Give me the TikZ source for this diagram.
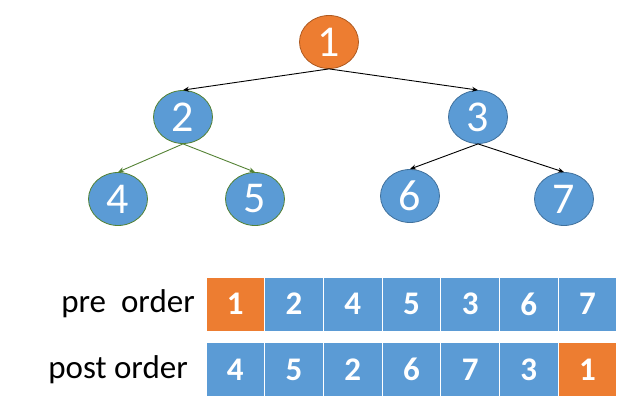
\documentclass[tikz,border=0pt]{standalone}
\usepackage{fontspec}
\setmainfont{Carlito}
\usetikzlibrary{shapes.geometric,arrows.meta}
\definecolor{orfill}{HTML}{ED7D31}
\definecolor{orline}{HTML}{AE5A21}
\definecolor{blfill}{HTML}{5B9BD5}
\definecolor{blline}{HTML}{41719C}
\definecolor{grline}{HTML}{548235}
\tikzset{
  tnode/.style={ellipse, minimum width=59pt, minimum height=53pt, inner sep=0pt, line width=0.8pt,
    text=white, font=\fontsize{44}{44}\selectfont},
  onode/.style={tnode, fill=orfill, draw=orline},
  bnode/.style={tnode, fill=blfill, draw=blline},
  gnode/.style={tnode, fill=blfill, draw=grline},
  edge/.style={line width=0.9pt, -{Stealth[length=6pt,width=5pt]}},
  gedge/.style={edge, draw=grline, color=grline},
  cell/.style={rectangle, minimum width=58.7pt, minimum height=54pt, inner sep=0pt, draw=white, line width=1pt,
    text=white, font=\fontsize{33}{33}\selectfont\bfseries},
  bcell/.style={cell, fill=blfill},
  ocell/.style={cell, fill=orfill},
  lab/.style={anchor=east, inner sep=0pt, font=\fontsize{33}{33}\selectfont}
}
\begin{document}
\begin{tikzpicture}[x=1pt,y=-1pt]
\useasboundingbox (0,0) rectangle (633,420);
\node[onode] (n1) at (329,42) {1};
\node[gnode] (n2) at (183,117) {2};
\node[bnode] (n3) at (478,117) {3};
\node[gnode] (n4) at (118,199) {4};
\node[gnode] (n5) at (255,199) {5};
\node[bnode] (n6) at (410,196) {6};
\node[bnode] (n7) at (564,199) {7};
\draw[edge] (n1.south) -- (n2.north);
\draw[edge] (n1.south) -- (n3.north);
\draw[gedge] (n2.south) -- (n4.north);
\draw[gedge] (n2.south) -- (n5.north);
\draw[edge] (n3.south) -- (n6.north);
\draw[edge] (n3.south) -- (n7.north);
% arrays
\node[ocell] (a1) at (235.35,304) {1};
\node[bcell] (a2) at (294.05,304) {2};
\node[bcell] (a3) at (352.75,304) {4};
\node[bcell] (a4) at (411.45,304) {5};
\node[bcell] (a5) at (470.15,304) {3};
\node[bcell] (a6) at (528.85,304) {6};
\node[bcell] (a7) at (587.55,304) {7};
\node[bcell] (b1) at (235.35,369.5) {4};
\node[bcell] (b2) at (294.05,369.5) {5};
\node[bcell] (b3) at (352.75,369.5) {2};
\node[bcell] (b4) at (411.45,369.5) {6};
\node[bcell] (b5) at (470.15,369.5) {7};
\node[bcell] (b6) at (528.85,369.5) {3};
\node[ocell] (b7) at (587.55,369.5) {1};
\node[lab] (l1) at (195,304) {pre\ \ order};
\node[lab] (l2) at (188,369.5) {post order};
\end{tikzpicture}
\end{document}
